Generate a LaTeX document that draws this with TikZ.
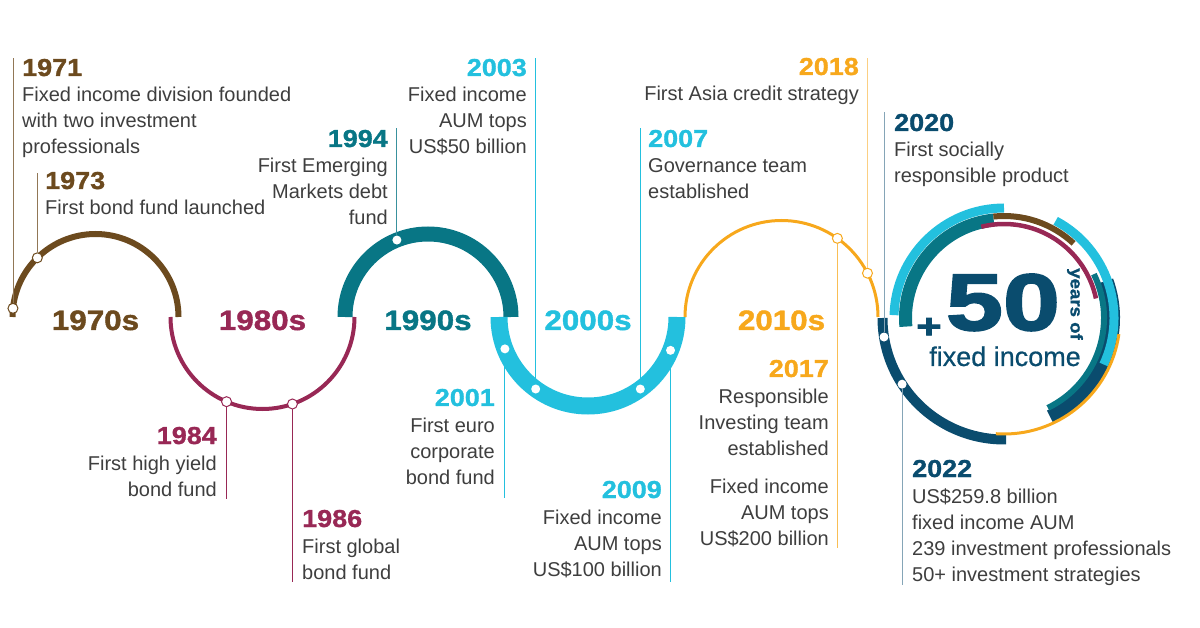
\documentclass[tikz,border=0pt]{standalone}
\usepackage{fontspec}
\setmainfont{Liberation Sans}
\newfontfamily\heavyfont{Liberation Sans Bold}[FakeBold=1.2,FakeStretch=1.1]
\newfontfamily\decadefont{Liberation Sans Bold}[FakeBold=1.5,FakeStretch=1.12]
\newfontfamily\bigfont{Liberation Sans Bold}[FakeBold=2.5,FakeStretch=1.28]
\newfontfamily\mediumfont{Liberation Sans}[FakeBold=0.6]
\usetikzlibrary{calc,positioning}
\definecolor{EraBrown}{RGB}{108,74,30}
\definecolor{EraMaroon}{RGB}{152,40,85}
\definecolor{EraTeal}{RGB}{8,118,133}
\definecolor{EraCyan}{RGB}{35,192,222}
\definecolor{EraOrange}{RGB}{247,168,28}
\definecolor{EraNavy}{RGB}{10,76,110}
\definecolor{BodyGray}{RGB}{62,62,62}
\tikzset{%
  year/.style={%
    inner sep=0pt, font=\heavyfont\fontsize{24.5}{26}\selectfont
  },
  body/.style={%
    inner sep=0pt, text=BodyGray, font=\fontsize{20}{26}\selectfont
  },
  decade/.style={%
    inner sep=0pt, anchor=base, font=\decadefont\fontsize{28}{30}\selectfont
  },
  stem/.style={line width=0.9pt},
  dot/.style={circle, draw=#1, fill=white, line width=1pt, inner sep=0pt, minimum size=10pt},
  banddot/.style={circle, fill=white, inner sep=0pt, minimum size=9pt},
}

\begin{document}
\begin{tikzpicture}[x=1pt, y=1pt]
    \useasboundingbox (0,0) rectangle (1200,-628);

    % centres of the decades
    \coordinate (C70) at (95.5,-317);
    \coordinate (C80) at (262.5,-317);
    \coordinate (C90) at (428,-317);
    \coordinate (C00) at (588,-317);
    \coordinate (C10) at (781.5,-317);
    \coordinate (C20) at (1004,-318);

    % the wave
    \draw[EraBrown, line width=6pt] ($(C70)+(180:83)$) arc[start angle=180, end angle=0, radius=83];
    \draw[EraMaroon, line width=4pt] ($(C80)+(180:92)$) arc[start angle=180, end angle=360, radius=92];
    \draw[EraTeal, line width=15pt] ($(C90)+(180:83)$) arc[start angle=180, end angle=0, radius=83];
    \draw[EraCyan, line width=17pt] ($(C00)+(180:89)$) arc[start angle=180, end angle=360, radius=89];
    \draw[EraOrange, line width=3pt] ($(C10)+(180:96.5)$) arc[start angle=180, end angle=0, radius=96.5];

    % the ring
    \draw[EraNavy, line width=10pt] ($(C20)+(180:121.5)$) arc[start angle=180, end angle=271, radius=121.5];
    \draw[EraNavy, line width=14pt] ($(C20)+(20:109)$) arc[start angle=20, end angle=-65, radius=109];
    \draw[EraCyan, line width=9pt] ($(C20)+(178.5:110)$) arc[start angle=178.5, end angle=90, radius=110];
    \draw[EraCyan, line width=9pt] ($(C20)+(62:110)$) arc[start angle=62, end angle=-25, radius=110];
    \draw[EraTeal, line width=13pt] ($(C20)+(185:98.5)$) arc[start angle=185, end angle=96, radius=98.5];
    \draw[EraTeal, line width=6pt] ($(C20)+(26:100)$) arc[start angle=26, end angle=-64, radius=100];
    \draw[EraBrown, line width=6pt] ($(C20)+(96:102)$) arc[start angle=96, end angle=47, radius=102];
    \draw[EraMaroon, line width=4.5pt] ($(C20)+(104:94)$) arc[start angle=104, end angle=12, radius=94];
    \draw[EraOrange, line width=3pt] ($(C20)+(-8:116)$) arc[start angle=-8, end angle=-94, radius=116];

    % decade labels
    \node (L70)[decade, EraBrown] at ($(C70)+(0,-13)$) {1970s};
    \node (L80)[decade, EraMaroon] at ($(C80)+(0,-13)$) {1980s};
    \node (L90)[decade, EraTeal] at ($(C90)+(0,-13)$) {1990s};
    \node (L00)[decade, EraCyan] at ($(C00)+(0,-13)$) {2000s};
    \node (L10)[decade, EraOrange] at ($(C10)+(0,-13)$) {2010s};

    % milestones on the wave
    \node (D1971)[dot=EraBrown] at ($(C70)+(174:83)$) {};
    \node (D1973)[dot=EraBrown] at ($(C70)+(134.5:83)$) {};
    \node (D1984)[dot=EraMaroon] at ($(C80)+(247:92)$) {};
    \node (D1986)[dot=EraMaroon] at ($(C80)+(289:92)$) {};
    \node (D1994)[banddot] at ($(C90)+(112:83)$) {};
    \node (D2001)[banddot] at ($(C00)+(201:89)$) {};
    \node (D2003)[banddot] at ($(C00)+(234:89)$) {};
    \node (D2007)[banddot] at ($(C00)+(306:89)$) {};
    \node (D2009)[banddot] at ($(C00)+(338:89)$) {};
    \node (D2017)[dot=EraOrange] at ($(C10)+(54.6:96.5)$) {};
    \node (D2018)[dot=EraOrange] at ($(C10)+(27:96.5)$) {};
    \node (D2020)[banddot] at ($(C20)+(189:121.5)$) {};
    \node (D2022)[banddot] at ($(C20)+(213:121.5)$) {};

    \coordinate (T1971) at (D1971 |- 0,-58);
    \coordinate (T1973) at (D1973 |- 0,-173);
    \coordinate (T1984) at (D1984 |- 0,-499);
    \coordinate (T1986) at (D1986 |- 0,-582);
    \coordinate (T1994) at (D1994 |- 0,-128);
    \coordinate (T2001) at (D2001 |- 0,-498);
    \coordinate (T2003) at (D2003 |- 0,-58);
    \coordinate (T2007) at (D2007 |- 0,-128);
    \coordinate (T2009) at (D2009 |- 0,-582);
    \coordinate (T2017) at (D2017 |- 0,-548);
    \coordinate (T2018) at (D2018 |- 0,-58);
    \coordinate (T2020) at (D2020 |- 0,-112);
    \coordinate (T2022) at (D2022 |- 0,-585);

    \draw[stem, EraBrown!75] (D1971) -- (T1971);
    \draw[stem, EraBrown!75] (D1973) -- (T1973);
    \draw[stem, EraMaroon] (D1984) -- (T1984);
    \draw[stem, EraMaroon] (D1986) -- (T1986);
    \draw[stem, EraTeal!80] (D1994) -- (T1994);
    \draw[stem, EraCyan] (D2001) -- (T2001);
    \draw[stem, EraCyan] (D2003) -- (T2003);
    \draw[stem, EraCyan] (D2007) -- (T2007);
    \draw[stem, EraCyan] (D2009) -- (T2009);
    \draw[stem, EraOrange!75] (D2017) -- (T2017);
    \draw[stem, EraOrange!55] (D2018) -- (T2018);
    \draw[stem, EraNavy!50] (D2020) -- (T2020);
    \draw[stem, EraNavy!50] (D2022) -- (T2022);

    % texts (base of a text block = its last line)
    \node (Y1971)[year, EraBrown, anchor=base west] at (22,-76) {1971};
    \node (N1971)[body, anchor=base west, align=left] at ([yshift=-78pt]Y1971.base west) {Fixed income division founded\\with two investment\\professionals};
    \node (Y1973)[year, EraBrown, anchor=base west] at (45,-189) {1973};
    \node (N1973)[body, anchor=base west, align=left] at ([yshift=-26pt]Y1973.base west) {First bond fund launched};

    \node (Y1984)[year, EraMaroon, anchor=base east] at (217,-444) {1984};
    \node (N1984)[body, anchor=base east, align=right] at ([yshift=-52pt]Y1984.base east) {First high yield\\bond fund};
    \node (Y1986)[year, EraMaroon, anchor=base west] at (302,-527) {1986};
    \node (N1986)[body, anchor=base west, align=left] at ([yshift=-52pt]Y1986.base west) {First global\\bond fund};

    \node (Y1994)[year, EraTeal, anchor=base east] at (388,-147) {1994};
    \node (N1994)[body, anchor=base east, align=right] at ([yshift=-78pt]Y1994.base east) {First Emerging\\Markets debt\\fund};

    \node (Y2003)[year, EraCyan, anchor=base east] at (527,-76) {2003};
    \node (N2003)[body, anchor=base east, align=right] at ([yshift=-78pt]Y2003.base east) {Fixed income\\AUM tops\\US\$50 billion};
    \node (Y2001)[year, EraCyan, anchor=base east] at (495,-406) {2001};
    \node (N2001)[body, anchor=base east, align=right] at ([yshift=-78pt]Y2001.base east) {First euro\\corporate\\bond fund};
    \node (Y2007)[year, EraCyan, anchor=base west] at (648,-147) {2007};
    \node (N2007)[body, anchor=base west, align=left] at ([yshift=-52pt]Y2007.base west) {Governance team\\established};
    \node (Y2009)[year, EraCyan, anchor=base east] at (662,-498) {2009};
    \node (N2009)[body, anchor=base east, align=right] at ([yshift=-78pt]Y2009.base east) {Fixed income\\AUM tops\\US\$100 billion};

    \node (Y2018)[year, EraOrange, anchor=base east] at (859,-75) {2018};
    \node (N2018)[body, anchor=base east, align=right] at ([yshift=-26pt]Y2018.base east) {First Asia credit strategy};
    \node (Y2017)[year, EraOrange, anchor=base east] at (829,-377) {2017};
    \node (N2017)[body, anchor=base east, align=right] at ([yshift=-78pt]Y2017.base east) {Responsible\\Investing team\\established};
    \node (M2017)[body, anchor=base east, align=right] at ([yshift=-90pt]N2017.base east) {Fixed income\\AUM tops\\US\$200 billion};

    \node (Y2020)[year, EraNavy, anchor=base west] at (894,-131) {2020};
    \node (N2020)[body, anchor=base west, align=left] at ([yshift=-52pt]Y2020.base west) {First socially\\responsible product};
    \node (Y2022)[year, EraNavy, anchor=base west] at (912,-477) {2022};
    \node (N2022)[body, anchor=base west, align=left] at ([yshift=-104pt]Y2022.base west) {US\$259.8 billion\\fixed income AUM\\239 investment professionals\\50+ investment strategies};

    % the badge
    \node (Plus)[inner sep=0pt, text=EraNavy, font=\bigfont\fontsize{34}{34}\selectfont] at (929,-328) {+};
    \node (Fifty)[inner sep=0pt, anchor=base, text=EraNavy, font=\bigfont\fontsize{80}{80}\selectfont] at (1003,-330) {50};
    \node (YearsOf)[inner sep=0pt, rotate=-90, text=EraNavy, font=\heavyfont\fontsize{17}{17}\selectfont] at (1075,-304) {years of};
    \node (FixedIncome)[inner sep=0pt, anchor=base, text=EraNavy, font=\mediumfont\fontsize{27}{27}\selectfont] at (1005,-366) {fixed income};
\end{tikzpicture}
\end{document}
